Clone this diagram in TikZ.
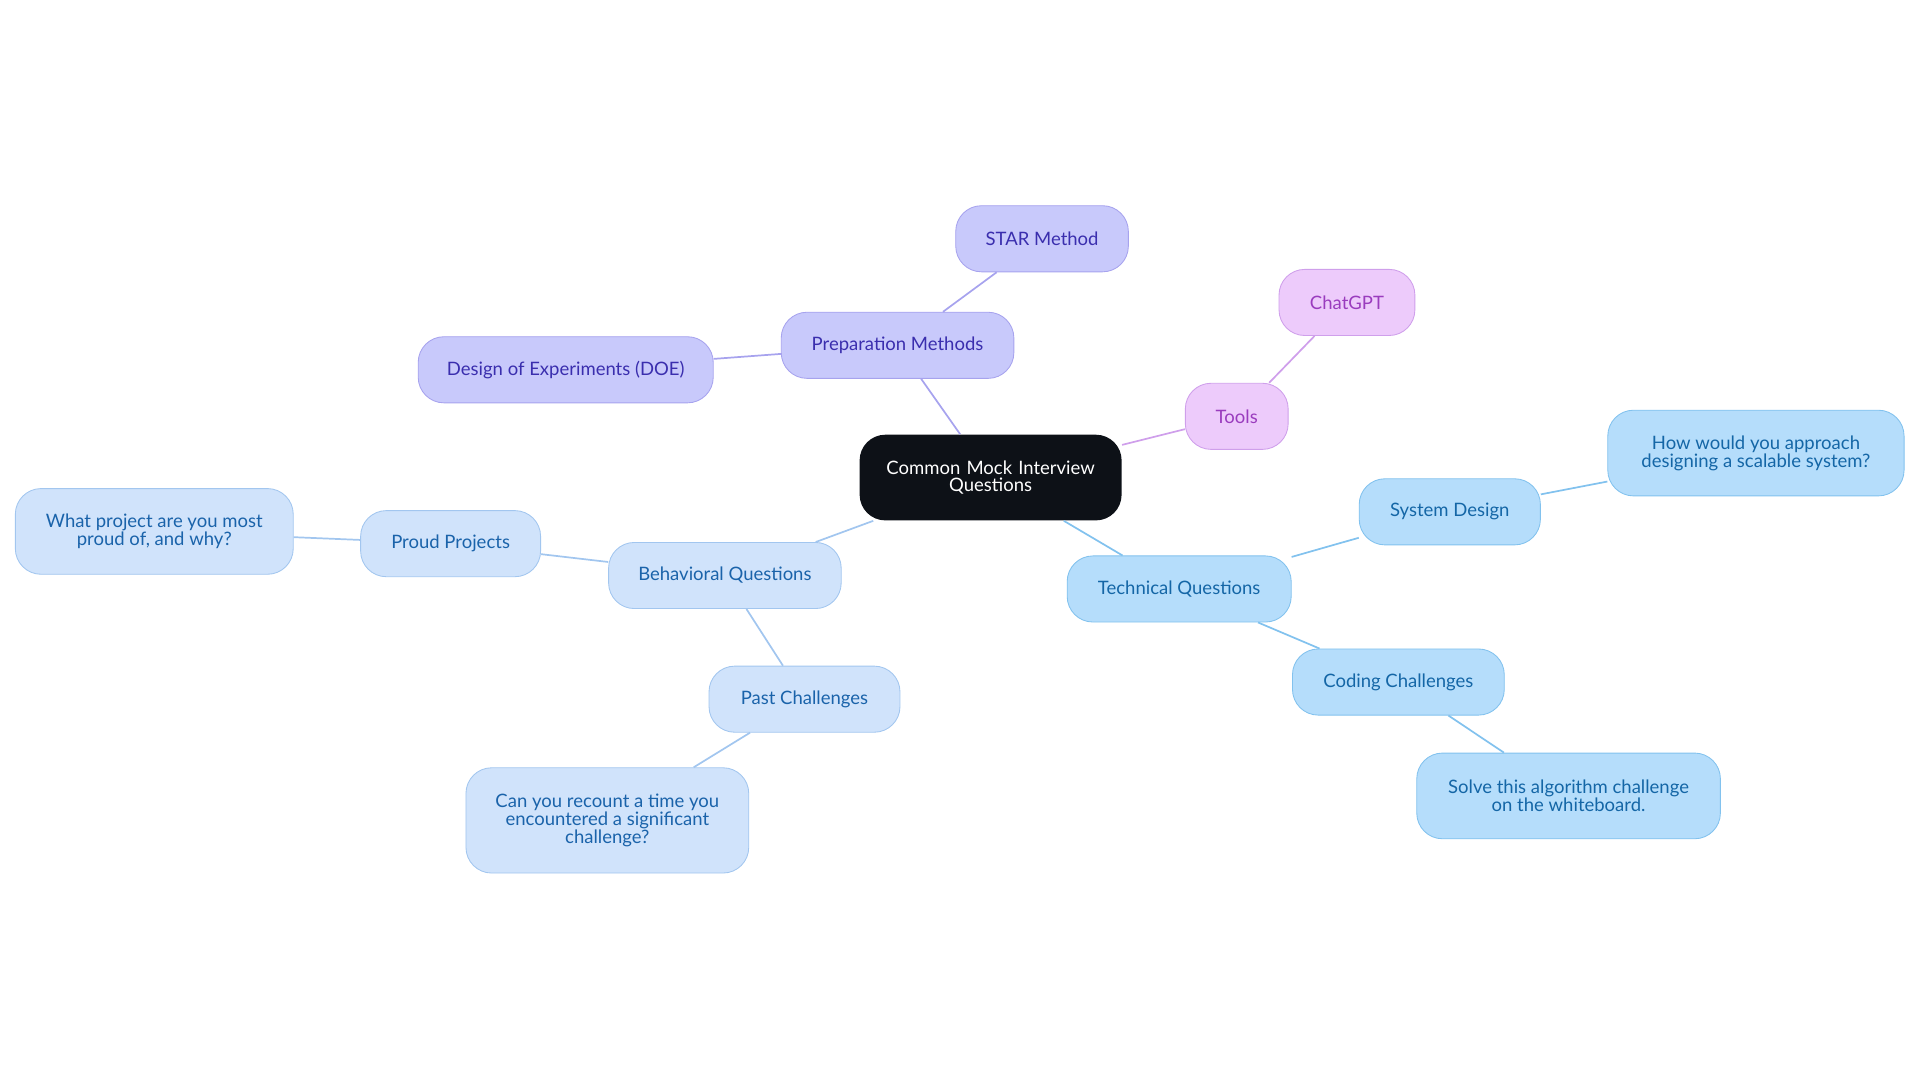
\documentclass[tikz,border=0pt]{standalone}
\usepackage{fontspec}
\setmainfont{Lato}
\definecolor{rootfill}{HTML}{0D1117}
\definecolor{prepfill}{HTML}{C8C9FB}
\definecolor{prepline}{HTML}{A7A3EE}
\definecolor{preptext}{HTML}{3A2EAE}
\definecolor{toolfill}{HTML}{EDCBFB}
\definecolor{toolline}{HTML}{CF9FEB}
\definecolor{tooltext}{HTML}{9A3CBE}
\definecolor{techfill}{HTML}{B5DDFB}
\definecolor{techline}{HTML}{82C2EE}
\definecolor{techtext}{HTML}{1466A6}
\definecolor{behfill}{HTML}{D0E3FB}
\definecolor{behline}{HTML}{A2C6EF}
\definecolor{behtext}{HTML}{1A63AA}
\tikzset{
  box/.style={rounded corners=0.42cm, inner sep=2pt, align=center, font=\fontsize{8.6}{9.2}\selectfont, minimum height=1.08cm},
  prep/.style={box, fill=prepfill, draw=prepline, text=preptext},
  tool/.style={box, fill=toolfill, draw=toolline, text=tooltext},
  tech/.style={box, fill=techfill, draw=techline, text=techtext},
  beh/.style={box, fill=behfill, draw=behline, text=behtext},
}
\begin{document}
\begin{tikzpicture}[x=0.02cm, y=-0.02cm]
    \useasboundingbox (0,0) rectangle (1568,884);

    \node[box, fill=rootfill, text=white, minimum width=4.28cm, minimum height=1.4cm, text width=4cm] (root) at (809,390) {Common Mock Interview\\[-1pt]Questions};
    \node[prep, minimum width=3.8cm] (prep) at (733,282) {Preparation Methods};
    \node[prep, minimum width=2.82cm] (star) at (851,195) {STAR Method};
    \node[prep, minimum width=4.82cm] (doe) at (462,302) {Design of Experiments (DOE)};
    \node[tool, minimum width=1.68cm] (tools) at (1010,340) {Tools};
    \node[tool, minimum width=2.22cm] (gpt) at (1100,247) {ChatGPT};
    \node[tech, minimum width=3.66cm] (tech) at (963,481) {Technical Questions};
    \node[tech, minimum width=2.96cm] (sys) at (1184,418) {System Design};
    \node[tech, minimum width=4.84cm, minimum height=1.4cm] (scal) at (1434,370) {How would you approach\\[-1pt]designing a scalable system?};
    \node[tech, minimum width=3.46cm] (code) at (1142,557) {Coding Challenges};
    \node[tech, minimum width=4.96cm, minimum height=1.4cm] (solve) at (1281,650) {Solve this algorithm challenge\\[-1pt]on the whiteboard.};
    \node[beh, minimum width=3.8cm] (beh) at (592,470) {Behavioral Questions};
    \node[beh, minimum width=2.94cm] (proud) at (368,444) {Proud Projects};
    \node[beh, minimum width=4.54cm, minimum height=1.4cm] (what) at (126,434) {What project are you most\\[-1pt]proud of, and why?};
    \node[beh, minimum width=3.12cm] (past) at (657,571) {Past Challenges};
    \node[beh, minimum width=4.62cm, minimum height=1.72cm] (recount) at (496,670) {Can you recount a time you\\[-1pt]encountered a significant\\[-1pt]challenge?};

    \draw[prepline, thick] (root) -- (prep);
    \draw[prepline, thick] (prep) -- (star);
    \draw[prepline, thick] (prep) -- (doe);
    \draw[toolline, thick] (root) -- (tools);
    \draw[toolline, thick] (tools) -- (gpt);
    \draw[techline, thick] (root) -- (tech);
    \draw[techline, thick] (tech) -- (sys);
    \draw[techline, thick] (sys) -- (scal);
    \draw[techline, thick] (tech) -- (code);
    \draw[techline, thick] (code) -- (solve);
    \draw[behline, thick] (root) -- (beh);
    \draw[behline, thick] (beh) -- (proud);
    \draw[behline, thick] (proud) -- (what);
    \draw[behline, thick] (beh) -- (past);
    \draw[behline, thick] (past) -- (recount);

  \end{tikzpicture}
\end{document}
